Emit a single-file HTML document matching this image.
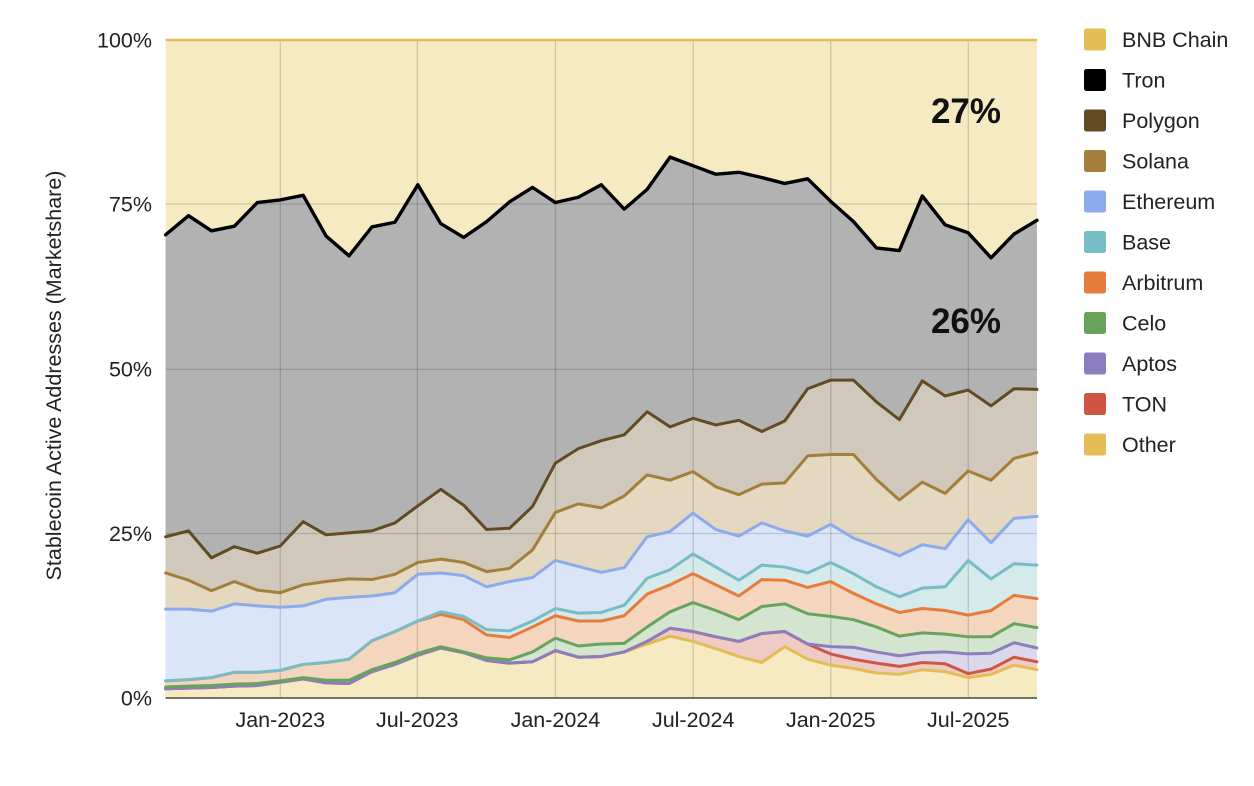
<!DOCTYPE html>
<html><head><meta charset="utf-8"><style>
html,body{margin:0;padding:0;background:#fff;}
svg{display:block;}
text{font-family:"Liberation Sans",Arial,sans-serif;fill:#222;}
</style></head><body>
<svg width="1254" height="786" viewBox="0 0 1254 786" xmlns="http://www.w3.org/2000/svg">
<rect width="1254" height="786" fill="#fff"/>
<g transform="matrix(22.93,0,0,-6.58,165.6,698)">
<!-- fills (opaque, pre-blended), top series first -->
<polygon fill="#f6eac2" points="0,100 38,100 38,0 0,0"/>
<polygon fill="#b2b2b2" points="0,70.4 1,73.3 2,71.0 3,71.7 4,75.3 5,75.7 6,76.4 7,70.2 8,67.2 9,71.6 10,72.3 11,78.0 12,72.1 13,70.0 14,72.4 15,75.4 16,77.6 17,75.3 18,76.1 19,78.0 20,74.3 21,77.3 22,82.2 23,80.9 24,79.6 25,79.9 26,79.1 27,78.2 28,78.9 29,75.5 30,72.4 31,68.4 32,68.0 33,76.3 34,71.9 35,70.7 36,66.9 37,70.5 38,72.6 38,0 0,0"/>
<polygon fill="#d0c8ba" points="0,24.5 1,25.4 2,21.3 3,23.0 4,22.0 5,23.1 6,26.8 7,24.8 8,25.1 9,25.4 10,26.6 11,29.2 12,31.7 13,29.3 14,25.6 15,25.8 16,29.1 17,35.7 18,37.9 19,39.1 20,40.0 21,43.5 22,41.2 23,42.5 24,41.5 25,42.2 26,40.5 27,42.1 28,47.0 29,48.3 30,48.3 31,45.0 32,42.3 33,48.2 34,45.9 35,46.8 36,44.4 37,47.0 38,46.9 38,0 0,0"/>
<polygon fill="#e4d8c0" points="0,19.0 1,17.9 2,16.3 3,17.7 4,16.4 5,16.0 6,17.2 7,17.7 8,18.1 9,18.0 10,18.8 11,20.6 12,21.1 13,20.6 14,19.2 15,19.7 16,22.5 17,28.2 18,29.5 19,28.9 20,30.7 21,33.9 22,33.1 23,34.4 24,32.1 25,30.9 26,32.5 27,32.7 28,36.8 29,37.0 30,37.0 31,33.2 32,30.1 33,32.8 34,31.1 35,34.5 36,33.1 37,36.4 38,37.3 38,0 0,0"/>
<polygon fill="#dbe5f8" points="0,13.5 1,13.5 2,13.2 3,14.3 4,14.0 5,13.8 6,14.0 7,15.0 8,15.3 9,15.5 10,16.0 11,18.8 12,19.0 13,18.6 14,16.9 15,17.7 16,18.3 17,20.9 18,20.0 19,19.1 20,19.8 21,24.5 22,25.3 23,28.1 24,25.6 25,24.6 26,26.6 27,25.4 28,24.6 29,26.4 30,24.3 31,23.0 32,21.6 33,23.3 34,22.7 35,27.1 36,23.6 37,27.3 38,27.6 38,0 0,0"/>
<polygon fill="#d4eaeb" points="0,2.6 1,2.8 2,3.1 3,3.9 4,3.9 5,4.2 6,5.1 7,5.4 8,5.9 9,8.7 10,10.1 11,11.7 12,13.1 13,12.4 14,10.4 15,10.2 16,11.7 17,13.6 18,12.9 19,13.0 20,14.1 21,18.2 22,19.5 23,21.9 24,19.9 25,17.9 26,20.2 27,19.9 28,19.0 29,20.6 30,18.9 31,16.9 32,15.4 33,16.7 34,16.9 35,20.9 36,18.1 37,20.4 38,20.2 38,0 0,0"/>
<polygon fill="#f4d6bf" points="0,2.6 1,2.8 2,3.1 3,3.9 4,3.9 5,4.2 6,5.1 7,5.4 8,5.9 9,8.7 10,10.1 11,11.7 12,12.7 13,11.9 14,9.6 15,9.2 16,10.8 17,12.5 18,11.7 19,11.7 20,12.5 21,15.8 22,17.2 23,18.9 24,17.2 25,15.5 26,18.0 27,17.9 28,16.8 29,17.7 30,15.9 31,14.3 32,13.0 33,13.6 34,13.3 35,12.6 36,13.3 37,15.6 38,15.1 38,0 0,0"/>
<polygon fill="#d3e5cf" points="0,1.7 1,1.8 2,1.9 3,2.1 4,2.2 5,2.6 6,3.1 7,2.7 8,2.7 9,4.3 10,5.4 11,6.8 12,7.8 13,7.0 14,6.1 15,5.8 16,7.0 17,9.1 18,7.9 19,8.2 20,8.3 21,10.8 22,13.1 23,14.5 24,13.3 25,11.9 26,13.9 27,14.3 28,12.8 29,12.4 30,11.9 31,10.8 32,9.4 33,9.9 34,9.7 35,9.3 36,9.3 37,11.3 38,10.7 38,0 0,0"/>
<polygon fill="#dcd8ec" points="0,1.4 1,1.5 2,1.6 3,1.8 4,1.9 5,2.4 6,2.9 7,2.3 8,2.2 9,4.0 10,5.1 11,6.5 12,7.6 13,6.9 14,5.7 15,5.3 16,5.5 17,7.2 18,6.2 19,6.3 20,7.0 21,8.6 22,10.6 23,10.1 24,9.3 25,8.6 26,9.8 27,10.1 28,8.2 29,7.8 30,7.7 31,7.0 32,6.4 33,6.9 34,7.0 35,6.7 36,6.8 37,8.4 38,7.6 38,0 0,0"/>
<polygon fill="#efcbc5" points="0,1.4 1,1.5 2,1.6 3,1.8 4,1.9 5,2.4 6,2.9 7,2.3 8,2.2 9,4.0 10,5.1 11,6.5 12,7.6 13,6.9 14,5.7 15,5.3 16,5.5 17,7.2 18,6.2 19,6.3 20,7.0 21,8.6 22,10.6 23,10.1 24,9.3 25,8.6 26,9.8 27,10.1 28,8.2 29,6.7 30,5.9 31,5.3 32,4.8 33,5.4 34,5.2 35,3.7 36,4.4 37,6.2 38,5.5 38,0 0,0"/>
<polygon fill="#f6eac2" points="0,1.4 1,1.5 2,1.6 3,1.8 4,1.9 5,2.4 6,2.9 7,2.3 8,2.2 9,4.0 10,5.1 11,6.5 12,7.6 13,6.9 14,5.7 15,5.3 16,5.5 17,7.2 18,6.2 19,6.3 20,7.0 21,8.2 22,9.4 23,8.6 24,7.5 25,6.3 26,5.4 27,7.8 28,5.9 29,5.0 30,4.5 31,3.8 32,3.6 33,4.3 34,4.0 35,3.1 36,3.6 37,5.0 38,4.3 38,0 0,0"/>
</g>
<!-- gridlines (drawn as translucent dark over opaque fills) -->
<g stroke="#000" stroke-opacity="0.15" stroke-width="1.3" fill="none">
<line x1="165.6" y1="204" x2="1037" y2="204"/>
<line x1="165.6" y1="369.3" x2="1037" y2="369.3"/>
<line x1="165.6" y1="533.5" x2="1037" y2="533.5"/>
<line x1="280.3" y1="40" x2="280.3" y2="698"/>
<line x1="417.3" y1="40" x2="417.3" y2="698"/>
<line x1="555.4" y1="40" x2="555.4" y2="698"/>
<line x1="693.2" y1="40" x2="693.2" y2="698"/>
<line x1="830.8" y1="40" x2="830.8" y2="698"/>
<line x1="968.3" y1="40" x2="968.3" y2="698"/>
</g>
<line x1="165.6" y1="698" x2="1037" y2="698" stroke="#4c4838" stroke-width="1.6"/>
<g transform="matrix(22.93,0,0,-6.58,165.6,698)" fill="none" stroke-linejoin="round" stroke-linecap="round">
<polyline vector-effect="non-scaling-stroke" stroke="#e4bc55" stroke-width="3" points="0,1.4 1,1.5 2,1.6 3,1.8 4,1.9 5,2.4 6,2.9 7,2.3 8,2.2 9,4.0 10,5.1 11,6.5 12,7.6 13,6.9 14,5.7 15,5.3 16,5.5 17,7.2 18,6.2 19,6.3 20,7.0 21,8.2 22,9.4 23,8.6 24,7.5 25,6.3 26,5.4 27,7.8 28,5.9 29,5.0 30,4.5 31,3.8 32,3.6 33,4.3 34,4.0 35,3.1 36,3.6 37,5.0 38,4.3"/>
<polyline vector-effect="non-scaling-stroke" stroke="#cf5644" stroke-width="3" points="0,1.4 1,1.5 2,1.6 3,1.8 4,1.9 5,2.4 6,2.9 7,2.3 8,2.2 9,4.0 10,5.1 11,6.5 12,7.6 13,6.9 14,5.7 15,5.3 16,5.5 17,7.2 18,6.2 19,6.3 20,7.0 21,8.6 22,10.6 23,10.1 24,9.3 25,8.6 26,9.8 27,10.1 28,8.2 29,6.7 30,5.9 31,5.3 32,4.8 33,5.4 34,5.2 35,3.7 36,4.4 37,6.2 38,5.5"/>
<polyline vector-effect="non-scaling-stroke" stroke="#8a7ebf" stroke-width="3" points="0,1.4 1,1.5 2,1.6 3,1.8 4,1.9 5,2.4 6,2.9 7,2.3 8,2.2 9,4.0 10,5.1 11,6.5 12,7.6 13,6.9 14,5.7 15,5.3 16,5.5 17,7.2 18,6.2 19,6.3 20,7.0 21,8.6 22,10.6 23,10.1 24,9.3 25,8.6 26,9.8 27,10.1 28,8.2 29,7.8 30,7.7 31,7.0 32,6.4 33,6.9 34,7.0 35,6.7 36,6.8 37,8.4 38,7.6"/>
<polyline vector-effect="non-scaling-stroke" stroke="#68a35e" stroke-width="3" points="0,1.7 1,1.8 2,1.9 3,2.1 4,2.2 5,2.6 6,3.1 7,2.7 8,2.7 9,4.3 10,5.4 11,6.8 12,7.8 13,7.0 14,6.1 15,5.8 16,7.0 17,9.1 18,7.9 19,8.2 20,8.3 21,10.8 22,13.1 23,14.5 24,13.3 25,11.9 26,13.9 27,14.3 28,12.8 29,12.4 30,11.9 31,10.8 32,9.4 33,9.9 34,9.7 35,9.3 36,9.3 37,11.3 38,10.7"/>
<polyline vector-effect="non-scaling-stroke" stroke="#e57c3c" stroke-width="3" points="0,2.6 1,2.8 2,3.1 3,3.9 4,3.9 5,4.2 6,5.1 7,5.4 8,5.9 9,8.7 10,10.1 11,11.7 12,12.7 13,11.9 14,9.6 15,9.2 16,10.8 17,12.5 18,11.7 19,11.7 20,12.5 21,15.8 22,17.2 23,18.9 24,17.2 25,15.5 26,18.0 27,17.9 28,16.8 29,17.7 30,15.9 31,14.3 32,13.0 33,13.6 34,13.3 35,12.6 36,13.3 37,15.6 38,15.1"/>
<polyline vector-effect="non-scaling-stroke" stroke="#78bcc4" stroke-width="3" points="0,2.6 1,2.8 2,3.1 3,3.9 4,3.9 5,4.2 6,5.1 7,5.4 8,5.9 9,8.7 10,10.1 11,11.7 12,13.1 13,12.4 14,10.4 15,10.2 16,11.7 17,13.6 18,12.9 19,13.0 20,14.1 21,18.2 22,19.5 23,21.9 24,19.9 25,17.9 26,20.2 27,19.9 28,19.0 29,20.6 30,18.9 31,16.9 32,15.4 33,16.7 34,16.9 35,20.9 36,18.1 37,20.4 38,20.2"/>
<polyline vector-effect="non-scaling-stroke" stroke="#8caaec" stroke-width="3" points="0,13.5 1,13.5 2,13.2 3,14.3 4,14.0 5,13.8 6,14.0 7,15.0 8,15.3 9,15.5 10,16.0 11,18.8 12,19.0 13,18.6 14,16.9 15,17.7 16,18.3 17,20.9 18,20.0 19,19.1 20,19.8 21,24.5 22,25.3 23,28.1 24,25.6 25,24.6 26,26.6 27,25.4 28,24.6 29,26.4 30,24.3 31,23.0 32,21.6 33,23.3 34,22.7 35,27.1 36,23.6 37,27.3 38,27.6"/>
<polyline vector-effect="non-scaling-stroke" stroke="#a47f3b" stroke-width="3" points="0,19.0 1,17.9 2,16.3 3,17.7 4,16.4 5,16.0 6,17.2 7,17.7 8,18.1 9,18.0 10,18.8 11,20.6 12,21.1 13,20.6 14,19.2 15,19.7 16,22.5 17,28.2 18,29.5 19,28.9 20,30.7 21,33.9 22,33.1 23,34.4 24,32.1 25,30.9 26,32.5 27,32.7 28,36.8 29,37.0 30,37.0 31,33.2 32,30.1 33,32.8 34,31.1 35,34.5 36,33.1 37,36.4 38,37.3"/>
<polyline vector-effect="non-scaling-stroke" stroke="#624a22" stroke-width="3" points="0,24.5 1,25.4 2,21.3 3,23.0 4,22.0 5,23.1 6,26.8 7,24.8 8,25.1 9,25.4 10,26.6 11,29.2 12,31.7 13,29.3 14,25.6 15,25.8 16,29.1 17,35.7 18,37.9 19,39.1 20,40.0 21,43.5 22,41.2 23,42.5 24,41.5 25,42.2 26,40.5 27,42.1 28,47.0 29,48.3 30,48.3 31,45.0 32,42.3 33,48.2 34,45.9 35,46.8 36,44.4 37,47.0 38,46.9"/>
<polyline vector-effect="non-scaling-stroke" stroke="#000" stroke-width="3.4" points="0,70.4 1,73.3 2,71.0 3,71.7 4,75.3 5,75.7 6,76.4 7,70.2 8,67.2 9,71.6 10,72.3 11,78.0 12,72.1 13,70.0 14,72.4 15,75.4 16,77.6 17,75.3 18,76.1 19,78.0 20,74.3 21,77.3 22,82.2 23,80.9 24,79.6 25,79.9 26,79.1 27,78.2 28,78.9 29,75.5 30,72.4 31,68.4 32,68.0 33,76.3 34,71.9 35,70.7 36,66.9 37,70.5 38,72.6"/>
</g>
<line x1="165.6" y1="40" x2="1037" y2="40" stroke="#e4bc55" stroke-width="2.5"/>
<!-- annotations -->
<text x="966" y="123" text-anchor="middle" font-size="35" font-weight="bold" style="fill:#111">27%</text>
<text x="966" y="333" text-anchor="middle" font-size="35" font-weight="bold" style="fill:#111">26%</text>
<!-- y ticks -->
<g font-size="21.5" text-anchor="end">
<text x="152" y="47.5">100%</text>
<text x="152" y="211.5">75%</text>
<text x="152" y="376.5">50%</text>
<text x="152" y="541">25%</text>
<text x="152" y="705.5">0%</text>
</g>
<!-- x ticks -->
<g font-size="21.5" text-anchor="middle">
<text x="280.3" y="727">Jan-2023</text>
<text x="417.3" y="727">Jul-2023</text>
<text x="555.4" y="727">Jan-2024</text>
<text x="693.2" y="727">Jul-2024</text>
<text x="830.8" y="727">Jan-2025</text>
<text x="968.3" y="727">Jul-2025</text>
</g>
<text transform="translate(61,375.5) rotate(-90)" text-anchor="middle" font-size="21.5">Stablecoin Active Addresses (Marketshare)</text>
<!-- legend -->
<g>
<rect x="1084" y="28.5" width="22" height="22" rx="2.5" fill="#e4bc55"/>
<rect x="1084" y="69" width="22" height="22" rx="2.5" fill="#000"/>
<rect x="1084" y="109.5" width="22" height="22" rx="2.5" fill="#624a22"/>
<rect x="1084" y="150" width="22" height="22" rx="2.5" fill="#a47f3b"/>
<rect x="1084" y="190.5" width="22" height="22" rx="2.5" fill="#8caaec"/>
<rect x="1084" y="231" width="22" height="22" rx="2.5" fill="#78bcc4"/>
<rect x="1084" y="271.5" width="22" height="22" rx="2.5" fill="#e57c3c"/>
<rect x="1084" y="312" width="22" height="22" rx="2.5" fill="#68a35e"/>
<rect x="1084" y="352.5" width="22" height="22" rx="2.5" fill="#8a7ebf"/>
<rect x="1084" y="393" width="22" height="22" rx="2.5" fill="#cf5644"/>
<rect x="1084" y="433.5" width="22" height="22" rx="2.5" fill="#e4bc55"/>
</g>
<g font-size="21.5">
<text x="1122" y="47.2">BNB Chain</text>
<text x="1122" y="87.7">Tron</text>
<text x="1122" y="128.2">Polygon</text>
<text x="1122" y="168.7">Solana</text>
<text x="1122" y="209.2">Ethereum</text>
<text x="1122" y="249.7">Base</text>
<text x="1122" y="290.2">Arbitrum</text>
<text x="1122" y="330.7">Celo</text>
<text x="1122" y="371.2">Aptos</text>
<text x="1122" y="411.7">TON</text>
<text x="1122" y="452.2">Other</text>
</g>
</svg>
</body></html>
